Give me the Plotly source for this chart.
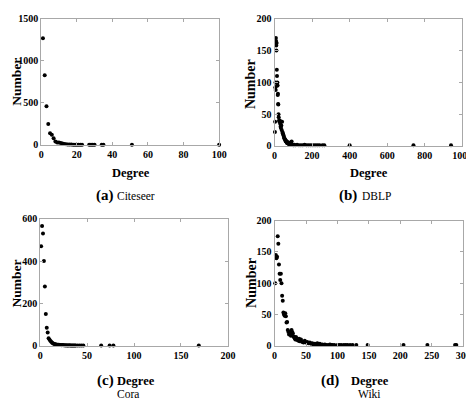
import plotly.graph_objects as go

# ---- data ----
deg_a = [1, 2, 3, 4, 5, 6, 7, 8, 9, 10, 11, 12, 13, 14, 15, 16, 17, 18, 19, 20, 21, 22, 23,
         27, 28, 29, 30, 34, 35, 51, 100]
num_a = [1270, 830, 460, 250, 140, 120, 80, 40, 30, 28, 22, 18, 12, 8, 6, 5, 4, 3, 3, 2, 2, 2, 1,
         1, 1, 1, 1, 1, 1, 1, 1]

deg_b = [2, 3, 4, 5, 6, 7, 8, 9, 10, 11, 12, 13, 14, 15, 16, 17, 18, 19, 20, 21, 22,
         24, 26, 28, 30, 32, 34, 36, 38, 40, 42, 44, 46, 48, 50, 52, 54, 56, 58, 60,
         62, 64, 66, 68, 70, 72,
         75, 78, 80, 85, 91, 95, 100, 105, 110,
         120, 130, 140, 150, 160, 170, 180, 190, 200, 210, 220, 230, 240,
         255, 265, 400, 740, 940]
num_b = [22, 38, 92, 100, 88, 170, 165, 158, 150, 162, 120, 110, 95, 100, 95, 80, 82, 66, 65, 50, 45,
         40, 38, 40, 35, 30, 28, 32, 25, 38, 22, 20, 18, 16, 14, 12, 11, 10, 8, 7,
         8, 6, 5, 4, 6, 4,
         3, 5, 2, 3, 7, 2, 1, 2, 1,
         2, 1, 1, 1, 2, 1, 1, 1, 1, 1, 1, 1, 1,
         1, 1, 1, 1, 1]

deg_c = [1, 2, 3, 4, 5, 6, 7, 8, 9, 10, 11, 12, 13, 14, 15, 16, 17, 18, 19, 20,
         21, 22, 23, 24, 25, 26, 27, 28, 29, 30, 31, 32, 33, 34, 35, 36, 37, 38,
         40, 42, 44, 46, 65, 74, 78, 169]
num_c = [470, 565, 530, 400, 280, 150, 85, 62, 35, 28, 22, 17, 13, 10, 8, 7, 6, 5, 4, 4,
         3, 3, 2, 3, 2, 2, 1, 2, 1, 1, 2, 1, 1, 1, 1, 1, 1, 1,
         1, 1, 1, 1, 1, 1, 1, 1]

deg_d = [1, 2, 3, 4, 5, 6, 7, 8, 9, 10, 11, 12, 13, 14, 15, 16, 17, 18, 19, 20,
         21, 22, 23, 24, 25, 26, 27, 28, 29, 30, 31, 32, 33, 34, 35, 36, 37, 38, 39, 40,
         42, 44, 46, 48, 50, 52, 54, 56, 58, 60, 62, 64, 66, 68, 70, 72, 74, 76, 78, 80,
         82, 85, 88, 90, 92, 95, 100, 103, 106, 110, 113, 116, 120, 124, 130,
         148, 205, 243, 287, 289]
num_d = [100, 145, 140, 142, 175, 163, 130, 115, 105, 115, 100, 80, 72, 53, 50, 48, 52, 47, 37, 38,
         25, 22, 18, 22, 20, 16, 25, 22, 20, 15, 14, 12, 10, 14, 12, 9, 10, 8, 11, 7,
         10, 6, 5, 8, 5, 6, 4, 5, 3, 4, 2, 3, 2, 4, 2, 3, 1, 2, 1, 2,
         1, 1, 2, 1, 1, 1, 1, 1, 1, 1, 1, 1, 1, 1, 1,
         1, 1, 1, 1, 1]

x_ticks_a = [0, 20, 40, 60, 80, 100]
y_ticks_a = [0, 500, 1000, 1500]
x_ticks_b = [0, 200, 400, 600, 800, 1000]
y_ticks_b = [0, 50, 100, 150, 200]
x_ticks_c = [0, 50, 100, 150, 200]
y_ticks_c = [0, 200, 400, 600]
x_ticks_d = [0, 50, 100, 150, 200, 250, 300]
y_ticks_d = [0, 50, 100, 150, 200]

W, H = 474, 399
SERIF = "Liberation Serif"

fig = go.Figure()
panels = [
    (deg_a, num_a, "x", "y"),
    (deg_b, num_b, "x2", "y2"),
    (deg_c, num_c, "x3", "y3"),
    (deg_d, num_d, "x4", "y4"),
]
for xs, ys, xa, ya in panels:
    fig.add_trace(go.Scatter(x=xs, y=ys, mode="markers", xaxis=xa, yaxis=ya,
                             marker=dict(color="black", size=4),
                             cliponaxis=False, hoverinfo="x+y"))


def px_x(p):
    return p / W


def px_y(p):
    return 1 - p / H


def axis(domain, rng, ticks, anchor):
    return dict(domain=domain, range=rng, tickvals=ticks, anchor=anchor,
                showline=True, linecolor="#a8a8a8", linewidth=1, mirror="ticks",
                ticks="inside", ticklen=3, tickcolor="#a8a8a8", showgrid=False,
                zeroline=False,
                tickfont=dict(family=SERIF, size=10, color="black", weight="bold"))


fig.update_layout(
    width=W, height=H, margin=dict(l=0, r=0, t=0, b=0),
    paper_bgcolor="white", plot_bgcolor="white", showlegend=False,
    xaxis=axis([px_x(31), px_x(214)], [0, 100], x_ticks_a, "y"),
    yaxis=axis([px_y(135), px_y(5)], [0, 1500], y_ticks_a, "x"),
    xaxis2=axis([px_x(271), px_x(464)], [0, 1000], x_ticks_b, "y2"),
    yaxis2=axis([px_y(136), px_y(5)], [0, 200], y_ticks_b, "x2"),
    xaxis3=axis([px_x(30), px_x(223)], [0, 200], x_ticks_c, "y3"),
    yaxis3=axis([px_y(342), px_y(211)], [0, 600], y_ticks_c, "x3"),
    xaxis4=axis([px_x(271), px_x(465)], [0, 300], x_ticks_d, "y4"),
    yaxis4=axis([px_y(342), px_y(213)], [0, 200], y_ticks_d, "x4"),
)


def ann(text, x, y, size, bold=True, angle=0):
    fig.add_annotation(text=text, x=px_x(x), y=px_y(y), xref="paper", yref="paper",
                       xanchor="center", yanchor="middle", showarrow=False,
                       textangle=angle, borderpad=0,
                       font=dict(family=SERIF, size=size, color="black",
                                 weight="bold" if bold else "normal"))


# y-axis titles
ann("Number", 6, 70, 13.5, angle=-90)
ann("Number", 247, 72, 14, angle=-90)
ann("Number", 6, 278, 13.5, angle=-90)
ann("Number", 247, 277, 14, angle=-90)
# x-axis titles
ann("Degree", 123, 164, 12.5)
ann("Degree", 368, 164, 12.5)
ann("Degree", 129, 378, 12.5)
ann("Degree", 369, 378, 12.5)
# captions
ann("(a)", 97, 187, 15)
ann("Citeseer", 129, 188, 11.5, bold=False)
ann("(b)", 347, 187, 15)
ann("DBLP", 376, 188, 11.5, bold=False)
ann("(c)", 97, 378, 15)
ann("Cora", 120, 392, 11.5, bold=False)
ann("(d)", 328, 378, 15)
ann("Wiki", 369, 392, 11.5, bold=False)

fig.write_html("out.html")
